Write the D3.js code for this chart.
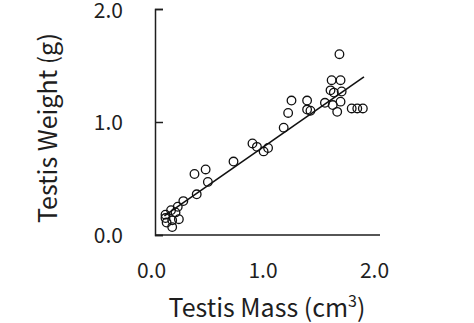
<!DOCTYPE html>
<html><head><meta charset="utf-8">
<script src="https://cdn.jsdelivr.net/npm/d3@7"></script>
<style>body{margin:0;background:#fff}</style>
</head><body>
<svg id="c" width="474" height="323"></svg>
<script>
// Data
const massX = [0.29,0.24,0.18,0.13,0.13,0.19,0.25,0.14,0.19,0.22,
  0.41,0.51,0.39,0.49,0.74,
  0.91,0.95,1.01,1.05,1.19,1.23,1.26,1.40,1.40,1.43,
  1.56,1.61,1.62,1.63,1.64,1.67,1.69,1.70,1.70,1.71,1.80,1.85,1.90];
const weightY = [0.30,0.25,0.22,0.18,0.15,0.13,0.14,0.11,0.07,0.20,
  0.36,0.47,0.54,0.58,0.65,
  0.81,0.78,0.74,0.77,0.95,1.08,1.19,1.19,1.11,1.10,
  1.17,1.28,1.37,1.15,1.26,1.09,1.60,1.37,1.18,1.27,1.12,1.12,1.12];
const fitX = [0.12, 1.91];
const fitY = [0.17, 1.40];
const xTicks = [0, 1, 2];
const yTicks = [0, 1, 2];

const svg = d3.select("#c");
const font = "'Noto Sans CJK KR','Noto Sans',sans-serif";
const ink = "#1e1e1e";

const x = d3.scaleLinear().domain([0, 2]).range([151, 374]);
const y = d3.scaleLinear().domain([0, 2]).range([235, 9]);

// Y axis
const gy = svg.append("g").attr("transform", "translate(155,0)")
  .call(d3.axisLeft(y).tickValues(yTicks).tickSize(-8).tickPadding(32).tickFormat(d3.format(".1f")));
gy.selectAll("path,line").attr("stroke", ink).attr("stroke-width", 1.5);
gy.selectAll("text").attr("font-family", font).attr("font-size", 21).attr("fill", ink)
  .attr("dy", d => d === 2 ? "0.40em" : "0.36em");

// X axis
const gx = svg.append("g").attr("transform", "translate(0,235)")
  .call(d3.axisBottom(x).tickValues(xTicks).tickSize(0).tickPadding(28).tickFormat(d3.format(".1f")));
gx.select(".domain").remove();
gx.selectAll("text").attr("font-family", font).attr("font-size", 21).attr("fill", ink);
svg.append("line").attr("x1", 155).attr("x2", 380).attr("y1", 235).attr("y2", 235)
  .attr("stroke", ink).attr("stroke-width", 1.5);

// Regression line
svg.append("path")
  .datum(fitX.map((d, i) => [d, fitY[i]]))
  .attr("d", d3.line().x(d => x(d[0])).y(d => y(d[1])))
  .attr("fill", "none").attr("stroke", "#111").attr("stroke-width", 1.6);

// Points
svg.append("g").selectAll("circle")
  .data(massX.map((d, i) => [d, weightY[i]]))
  .join("circle")
  .attr("cx", d => x(d[0])).attr("cy", d => y(d[1])).attr("r", 4.3)
  .attr("fill", "none").attr("stroke", "#111").attr("stroke-width", 1.3);

// Titles
const xt = svg.append("text").attr("x", 267).attr("y", 317).attr("text-anchor", "middle")
  .attr("font-family", font).attr("font-size", 25).attr("fill", ink);
xt.append("tspan").text("Testis Mass (cm");
xt.append("tspan").attr("font-size", 16).attr("dy", -10).text("3");
xt.append("tspan").attr("dy", 10).text(")");

svg.append("text").attr("transform", "translate(57,128) rotate(-90)")
  .attr("text-anchor", "middle").attr("font-family", font).attr("font-size", 25).attr("fill", ink)
  .text("Testis Weight (g)");
</script>
</body></html>
